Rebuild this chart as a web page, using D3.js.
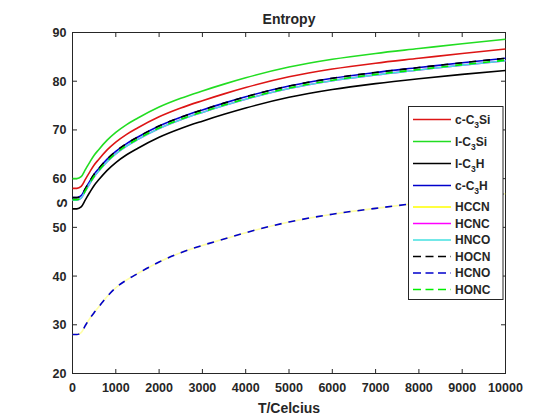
<!DOCTYPE html>
<html><head><meta charset="utf-8">
<script src="https://cdn.jsdelivr.net/npm/d3@7"></script>
<style>
body{margin:0;background:#fff;}
text{font-family:"Liberation Sans",Arial,sans-serif;font-weight:bold;fill:#262626;}
</style></head>
<body><svg id="c" width="560" height="420"></svg>
<script>
// ---- data ----
const temps = [0,100,200,300,400,500,600,800,1000,1250,1500,2000,2500,3000,3500,4000,5000,6000,7000,8000,9000,10000];
const cC3Si = [58.0,58.0,58.4,59.9,61.4,62.8,63.9,65.9,67.5,69.1,70.4,72.7,74.5,76.0,77.4,78.7,80.9,82.5,83.7,84.7,85.7,86.6];
const lC3Si = [60.0,60.0,60.4,61.9,63.4,64.8,65.9,67.9,69.5,71.1,72.4,74.7,76.5,78.0,79.4,80.7,82.9,84.5,85.7,86.7,87.7,88.6];
const lC3H  = [53.8,53.8,54.2,55.7,57.2,58.6,59.7,61.7,63.3,64.9,66.2,68.5,70.3,71.8,73.2,74.5,76.7,78.3,79.5,80.5,81.4,82.2];
const cC3H  = [56.1,56.1,56.5,58.0,59.5,60.9,62.0,64.0,65.6,67.2,68.5,70.8,72.6,74.1,75.5,76.8,79.0,80.6,81.8,82.8,83.8,84.7];
const HCCN  = [28.0,28.0,28.4,29.9,31.3,32.5,33.6,35.8,37.6,39.2,40.5,42.9,44.8,46.3,47.6,48.9,51.1,52.7,53.9,55.0,56.0,56.9];
const HCNC  = [55.6,55.6,56.0,57.5,59.0,60.4,61.5,63.5,65.1,66.7,68.0,70.3,72.1,73.6,75.0,76.3,78.5,80.1,81.3,82.3,83.3,84.2];
const HNCO  = [55.6,55.6,56.0,57.5,59.0,60.4,61.5,63.5,65.1,66.7,68.0,70.3,72.1,73.6,75.0,76.3,78.5,80.1,81.3,82.3,83.3,84.2];
const HOCN  = [56.1,56.1,56.5,58.0,59.5,60.9,62.0,64.0,65.6,67.2,68.5,70.8,72.6,74.1,75.5,76.8,79.0,80.6,81.8,82.8,83.8,84.7];
const HCNO  = [28.0,28.0,28.4,29.9,31.3,32.5,33.6,35.8,37.6,39.2,40.5,42.9,44.8,46.3,47.6,48.9,51.1,52.7,53.9,55.0,56.0,56.9];
const HONC  = [55.7,55.7,56.1,57.6,59.1,60.5,61.6,63.6,65.2,66.8,68.1,70.4,72.2,73.7,75.1,76.4,78.6,80.2,81.4,82.4,83.4,84.3];
const seriesNames = ["c-C_3Si","l-C_3Si","l-C_3H","c-C_3H","HCCN","HCNC","HNCO","HOCN","HCNO","HONC"];
const seriesValues = [cC3Si,lC3Si,lC3H,cC3H,HCCN,HCNC,HNCO,HOCN,HCNO,HONC];
const xTicks = [0,1000,2000,3000,4000,5000,6000,7000,8000,9000,10000];
const yTicks = [20,30,40,50,60,70,80,90];
const titleText = "Entropy", xLabel = "T/Celcius", yLabel = "S";

// ---- styles ----
const colors = ["#dd1515","#22dd22","#000000","#0000cc","#ffff00","#ff00ff","#44e0e0","#000000","#0000cc","#00ee00"];
const dashed = [false,false,false,false,false,false,false,true,true,true];

const svg = d3.select("#c");
const L=72.5, R=505.5, T=32.5, B=373.5;
const x = d3.scaleLinear().domain([0,10000]).range([L,R]);
const y = d3.scaleLinear().domain([20,90]).range([B,T]);

// axes box
svg.append("rect").attr("x",L).attr("y",T).attr("width",R-L).attr("height",B-T)
  .attr("fill","none").attr("stroke","#262626").attr("stroke-width",1);

// ticks (inward, all sides)
const tl=4.5;
const g = svg.append("g").attr("stroke","#262626").attr("stroke-width",1);
xTicks.forEach(t=>{
  g.append("line").attr("x1",x(t)).attr("x2",x(t)).attr("y1",B).attr("y2",B-tl);
  g.append("line").attr("x1",x(t)).attr("x2",x(t)).attr("y1",T).attr("y2",T+tl);
});
yTicks.forEach(t=>{
  g.append("line").attr("x1",L).attr("x2",L+tl).attr("y1",y(t)).attr("y2",y(t));
  g.append("line").attr("x1",R).attr("x2",R-tl).attr("y1",y(t)).attr("y2",y(t));
});
// tick labels
svg.selectAll(".xt").data(xTicks).enter().append("text")
  .attr("x",d=>x(d)).attr("y",B+18).attr("text-anchor","middle").attr("font-size",12.5).text(d=>d);
svg.selectAll(".yt").data(yTicks).enter().append("text")
  .attr("x",L-6).attr("y",d=>y(d)+4.5).attr("text-anchor","end").attr("font-size",12.5).text(d=>d);

// labels
svg.append("text").attr("x",(L+R)/2).attr("y",24).attr("text-anchor","middle").attr("font-size",14).text(titleText);
svg.append("text").attr("x",(L+R)/2).attr("y",413).attr("text-anchor","middle").attr("font-size",14).text(xLabel);
svg.append("text").attr("transform",`translate(67,203) rotate(-90)`).attr("text-anchor","middle").attr("font-size",14).text(yLabel);

// lines
const line = d3.line().x((d,i)=>x(temps[i])).y(d=>y(d)).curve(d3.curveMonotoneX);
seriesValues.forEach((vals,k)=>{
  svg.append("path").attr("d",line(vals)).attr("fill","none")
    .attr("stroke",colors[k]).attr("stroke-width",1.6)
    .attr("stroke-opacity", colors[k]==="#ffff00"?0.35:1)
    .attr("stroke-dasharray",dashed[k]?"7,7":null);
});

// legend
const lg = svg.append("g");
lg.append("rect").attr("x",408.5).attr("y",106.5).attr("width",94.5).attr("height",193)
  .attr("fill","#fff").attr("stroke","#262626").attr("stroke-width",1);
const rowY = [119.5,141.5,163.5,185.5,207,223.5,240,256.5,273,289.5];
seriesNames.forEach((nm,k)=>{
  const yy=rowY[k];
  lg.append("line").attr("x1",413).attr("x2",451).attr("y1",yy).attr("y2",yy)
    .attr("stroke",colors[k]).attr("stroke-width",1.6).attr("stroke-dasharray",dashed[k]?"8,4.5":null);
  const t = lg.append("text").attr("x",455).attr("y",yy+4.2).attr("font-size",12);
  const parts = nm.split("_");
  if(parts.length===1){ t.text(nm); }
  else {
    t.append("tspan").text(parts[0]);
    t.append("tspan").attr("font-size",8.5).attr("dy",4).text(parts[1][0]);
    t.append("tspan").attr("dy",-4).text(parts[1].slice(1));
  }
});
</script></body></html>
